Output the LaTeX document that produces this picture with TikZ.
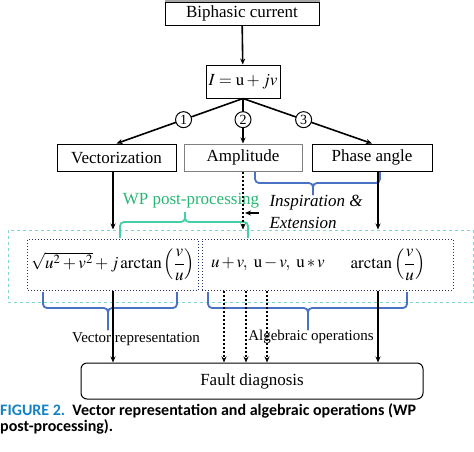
\documentclass[tikz,border=0pt]{standalone}
\usepackage{amsmath}
\usepackage{mathptmx}
\usepackage{fontspec}
\setmainfont{Liberation Serif}
\newfontfamily\capfont{Carlito}
\usetikzlibrary{arrows.meta}

\definecolor{bblue}{RGB}{74,114,196}
\definecolor{bgreen}{RGB}{70,206,166}
\definecolor{wpgreen}{RGB}{40,182,116}
\definecolor{wpcyan}{RGB}{130,215,205}
\definecolor{dotnavy}{RGB}{40,50,100}
\definecolor{capblue}{RGB}{20,130,195}

% bracket: colour, left x, right x, tip x, leg y, bar y, tip y
\newcommand\wpbrace[7]{%
  \draw[brk,#1] (#2,#5) -- (#2,#6) -- (#4,#6) -- (#4,#7);
  \draw[brk,#1] (#3,#5) -- (#3,#6) -- (#4,#6) -- (#4,#7);
}

\begin{document}
\begin{tikzpicture}[x=1pt,y=-1pt,
    font=\fontsize{17}{20}\selectfont,
    box/.style={draw, line width=1, inner sep=2},
    dotbox/.style={draw=dotnavy, line width=1, dotted},
    arr/.style={-{Stealth[length=6,width=5]}, line width=1.6},
    dots/.style={dash pattern=on 2 off 2},
    num/.style={circle, draw, line width=1, fill=white, inner sep=0,
      minimum size=16, font=\fontsize{14}{14}\selectfont},
    brk/.style={line width=1.8, rounded corners=4}]
    \useasboundingbox (0,0) rectangle (474,451);

    % top row
    \node[box, minimum width=154, minimum height=23] (bip) at (242,13.5) {Biphasic current};
    \fill[gray!70] (bip.north west) rectangle ([yshift=2]bip.north east);
    \node[box, minimum width=74, minimum height=33] (cur) at (243,81.5) {$I=\mathrm{u}+jv$};

    \node[box, minimum width=119, minimum height=27] (vec) at (116.5,157.5) {Vectorization};
    \node[box, draw=gray, minimum width=118, minimum height=27] (amp) at (243,157.5) {Amplitude};
    \node[box, minimum width=120, minimum height=27] (pha) at (372,157.5) {Phase angle};

    \draw[arr] (bip) -- (cur);
    \draw[arr] (cur.south) -- node[num, pos=.47] (n1) {1} (vec.north);
    \draw[arr] (cur.south) -- node[num, pos=.47] (n2) {2} (amp.north);
    \draw[arr] (cur.south) -- node[num, pos=.47] (n3) {3} (pha.north);

    % WP post-processing
    \node[draw=wpcyan, dashed, line width=1, minimum width=465, minimum height=72] (wp) at (240.5,266) {};
    \node[dotbox, minimum width=168, minimum height=51] (vr) at (113,264.5)
      {$\sqrt{u^2+v^2}+j\arctan\left(\dfrac{v}{u}\right)$};
    \node[dotbox, minimum width=251, minimum height=51] (al) at (327.5,264.5) {};
    \node (ops) at (268,264.5) {$\medmuskip=2mu u+v,\ \mathrm{u}-v,\ \mathrm{u}*v$};
    \node (atn) at (388,264.5) {$\arctan\left(\dfrac{v}{u}\right)$};

    \node[text=wpgreen] (wplab) at (191,201) {WP post-processing};
    \node[align=left, anchor=west, font=\fontsize{17}{22}\selectfont\itshape] (insp) at (266,212)
      {Inspiration \&\\Extension};

    \wpbrace{bblue}{255}{380}{313}{172}{183}{195}
    \wpbrace{bgreen}{120}{248}{185}{238}{222}{212}
    \wpbrace{bblue}{43}{177}{108}{292}{308}{330}
    \wpbrace{bblue}{208}{407}{308}{292}{308}{330}

    \node[font=\fontsize{15}{18}\selectfont] (vrlab) at (136,339) {Vector representation};
    \node[font=\fontsize{15}{18}\selectfont] (allab) at (311,337) {Algebraic operations};

    \node[box, rounded corners=6, minimum width=342, minimum height=36] (fault) at (252,381) {Fault diagnosis};

    % connectors into and out of the WP block
    \draw[arr] (vr.north |- vec.south) -- (vr.north |- wp.north);
    \draw[arr, dots] (amp.south) -- (amp.south |- wp.north);
    \draw[arr] ([xshift=6]pha.south) -- ([xshift=6]pha.south |- wp.north);
    \coordinate (ia) at (259,213);
    \draw[arr, shorten >=2] (ia) -- (amp.south |- ia);

    \draw[arr] (vr.south) -- (vr.south |- fault.north);
    \draw[arr] ([xshift=6]pha.south |- al.south) -- ([xshift=6]pha.south |- fault.north);
    \foreach \dx in {224,246,267}
      \draw[arr, dots] (al.south -| \dx,0) -- (fault.north -| \dx,0);

    % caption
    \node[anchor=base west, align=left, inner sep=0,
      font=\capfont\bfseries\fontsize{16}{16}\selectfont] (cap) at (0,431)
      {\textcolor{capblue}{FIGURE 2.}\ \ Vector representation and algebraic operations (WP\\post-processing).};
\end{tikzpicture}
\end{document}
